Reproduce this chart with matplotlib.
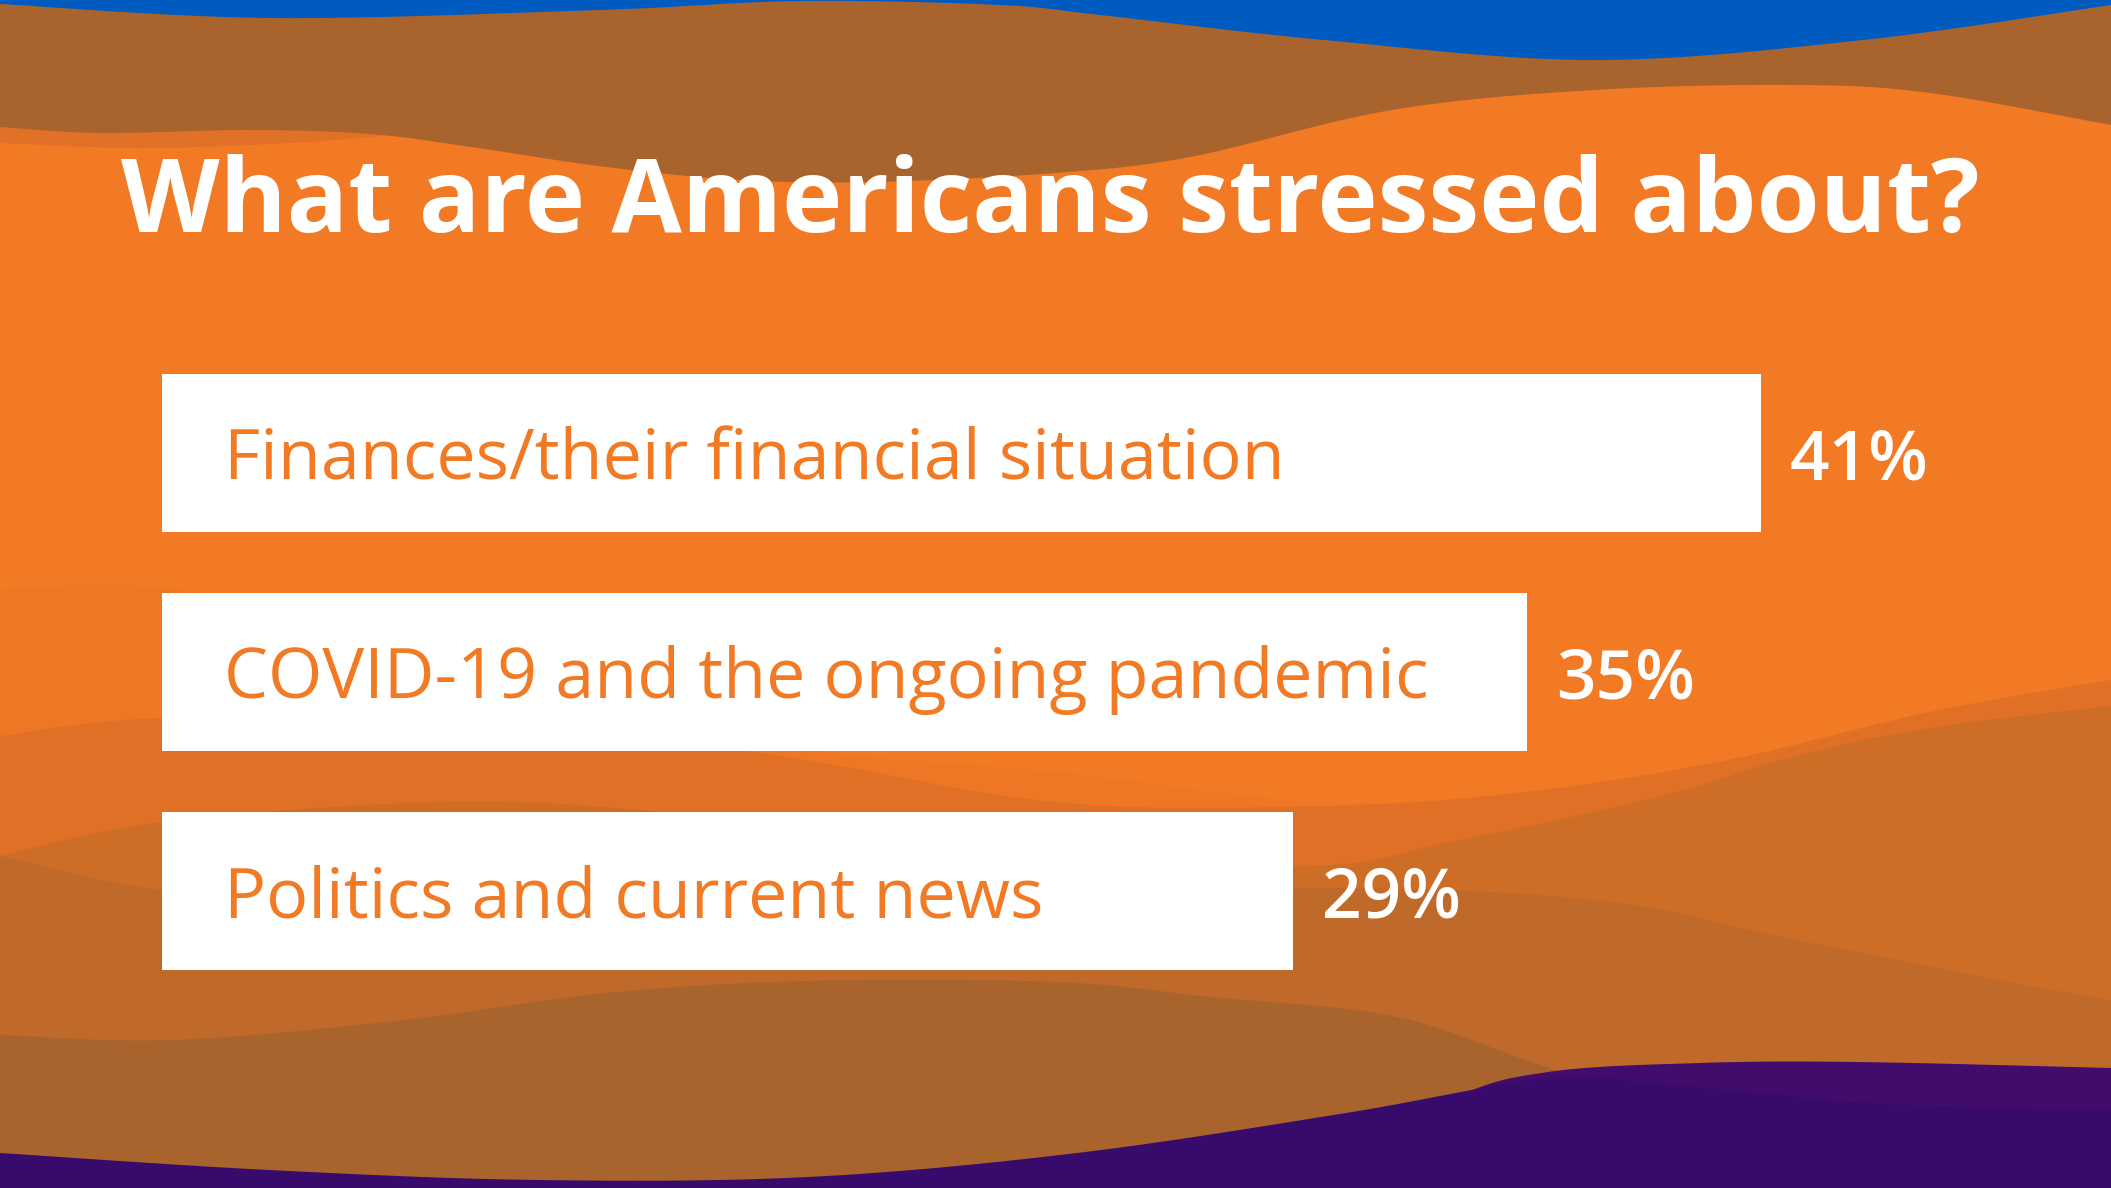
import matplotlib.pyplot as plt
import numpy as np

title = "What are Americans stressed about?"
categories = ["Finances/their financial situation",
              "COVID-19 and the ongoing pandemic",
              "Politics and current news"]
values = [41, 35, 29]

W, H = 2111, 1188
ORANGE = "#F27A24"

# decorative background waves: edge control points in pixels
wave_top_strip = [(0, 143), (135, 148), (270, 144), (370, 137), (500, 120), (700, 95), (900, 70), (2111, 40)]
wave_top_brown = [(0, 127), (101, 133), (250, 130), (370, 134), (471, 147), (606, 167), (741, 180),
                  (875, 182), (1055, 173), (1190, 157), (1392, 110), (1594, 90), (1796, 85),
                  (1930, 93), (2111, 125)]
wave_top_blue = [(0, 4), (270, 18), (600, 10), (800, 1), (1000, 5), (1100, 15), (1324, 40),
                 (1594, 60), (1863, 40), (2111, 5)]

wave_l1 = [(0, 590), (160, 588), (450, 640), (754, 740), (1055, 772), (1324, 802), (1526, 792),
           (1728, 760), (1930, 712), (2111, 680)]
wave_l2 = [(0, 736), (162, 718), (450, 722), (754, 752), (1055, 802), (1324, 806), (1526, 792),
           (1728, 760), (1930, 712), (2111, 680)]
wave_l3 = [(0, 856), (162, 822), (438, 802), (640, 810), (900, 840), (1291, 866), (1459, 840),
           (1661, 796), (1796, 756), (1930, 728), (2111, 706)]
wave_l4 = [(0, 856), (162, 890), (400, 905), (800, 900), (1291, 888), (1594, 900), (1796, 940),
           (1998, 980), (2111, 1000)]
wave_l5 = [(0, 1035), (175, 1040), (404, 1020), (606, 993), (808, 981), (1056, 982), (1211, 997),
           (1392, 1016), (1526, 1060), (1700, 1120), (1900, 1188)]
wave_l6 = [(1300, 1188), (1450, 1100), (1548, 1072), (1700, 1063), (1857, 1062), (2111, 1068)]
wave_l7 = [(0, 1153), (269, 1170), (538, 1180), (808, 1177), (1077, 1153), (1346, 1113),
           (1548, 1078), (1650, 1083), (1750, 1092), (1884, 1104), (2111, 1110)]


def smooth(pts, steps=40):
    # catmull-rom spline through the control points
    p = np.array(pts, float)
    p = np.vstack([p[0], p, p[-1]])
    t = np.linspace(0, 1, steps, endpoint=False)[:, None]
    out = []
    for i in range(1, len(p) - 2):
        p0, p1, p2, p3 = p[i - 1], p[i], p[i + 1], p[i + 2]
        out.append(0.5 * (2 * p1 + (-p0 + p2) * t + (2 * p0 - 5 * p1 + 4 * p2 - p3) * t ** 2
                          + (-p0 + 3 * p1 - 3 * p2 + p3) * t ** 3))
    out.append(p[-2][None])
    return np.vstack(out)


def wave(ax, pts, color, side):
    c = smooth(pts)
    edge = 0 if side == "top" else H
    poly = np.vstack([[c[0, 0], edge], c, [c[-1, 0], edge]])
    ax.fill(poly[:, 0], poly[:, 1], color=color, lw=0)


fig = plt.figure(figsize=(W / 100, H / 100), dpi=100)
fig.patch.set_facecolor(ORANGE)

bg = fig.add_axes([0, 0, 1, 1])
bg.set_xlim(0, W)
bg.set_ylim(H, 0)
bg.axis("off")

wave(bg, wave_top_strip, "#E07126", "top")
wave(bg, wave_top_brown, "#A9642D", "top")
wave(bg, wave_top_blue, "#005BC1", "top")
wave(bg, wave_l1, "#EE7725", "bottom")
wave(bg, wave_l2, "#DF7026", "bottom")
wave(bg, wave_l3, "#CE6D26", "bottom")
wave(bg, wave_l4, "#BF692A", "bottom")
wave(bg, wave_l5, "#A9642D", "bottom")
wave(bg, wave_l6, "#410C6C", "bottom")
wave(bg, wave_l7, "#380A6B", "bottom")

renderer = fig.canvas.get_renderer()


def fit_width(txt, target):
    w = txt.get_window_extent(renderer).width
    txt.set_fontsize(txt.get_fontsize() * target / w)


t = bg.text(121, 232, title, ha="left", va="baseline", color="white",
            family="Open Sans", fontweight="bold", fontsize=70)
fit_width(t, 1860)

# bar chart: 0% sits at x=161.5 px, 39 px per percent
ax = fig.add_axes([161.5 / W, 1 - 1000.5 / H, 50 * 39 / W, 657 / H])
ax.set_xlim(0, 50)
ax.set_ylim(2.5, -0.5)
ax.axis("off")
ax.patch.set_alpha(0)

y = np.arange(len(categories))
ax.barh(y, values, height=0.72, color="white", lw=0)

labels = []
for i, (cat, v) in enumerate(zip(categories, values)):
    lt = ax.text(1.6, i + 0.12, cat, ha="left", va="baseline", color=ORANGE,
                 family="Open Sans", fontweight="normal", fontsize=46)
    labels.append(lt)
    pt = ax.text(v + 0.75, i + 0.12, f"{v}%", ha="left", va="baseline", color="white",
                 family="Open Sans", fontweight="semibold", fontsize=52)
    fit_width(pt, 139)

fit_width(labels[0], 1060)
for lt in labels[1:]:
    lt.set_fontsize(labels[0].get_fontsize())

fig.savefig("out.png", dpi=100, facecolor=fig.get_facecolor())
